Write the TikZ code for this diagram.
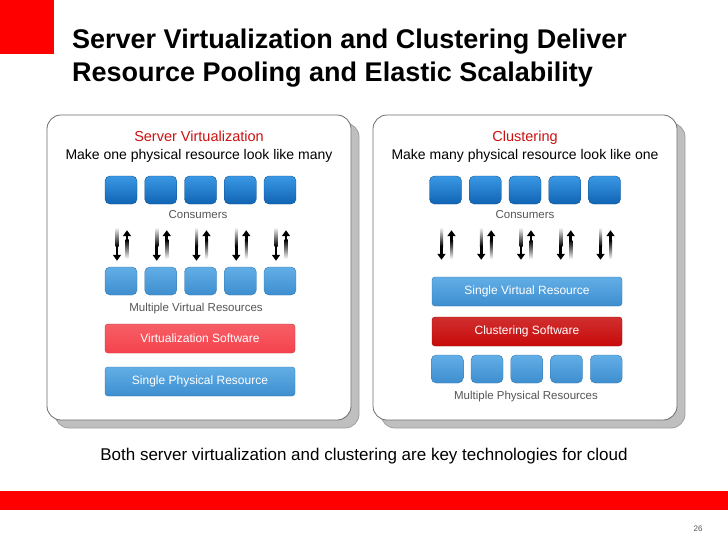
\documentclass[tikz,border=0pt]{standalone}
\usepackage{fontspec}
\setmainfont{Liberation Sans}
\usetikzlibrary{positioning,arrows.meta,shadows}

\definecolor{slidered}{HTML}{FF0000}
\definecolor{headred}{HTML}{CC1111}
\definecolor{consumertop}{HTML}{3A98E4}
\definecolor{consumerbot}{HTML}{1064B4}
\definecolor{restop}{HTML}{62AEE6}
\definecolor{resbot}{HTML}{3E8ECF}
\definecolor{virtred}{HTML}{F5424C}
\definecolor{clusred}{HTML}{C80A0A}
\definecolor{labelgray}{HTML}{555555}

\begin{document}
\begin{tikzpicture}[
    x=1pt, y=-1pt,
    panel/.style={rectangle, draw=gray!85!black, fill=white, rounded corners=14pt,
                minimum width=304pt, minimum height=305pt, line width=0.8pt,
                drop shadow={shadow xshift=8pt, shadow yshift=-8pt, fill=gray!50, draw=gray!75, opacity=1}},
    consumer/.style={rectangle, rounded corners=5pt, minimum width=32pt, minimum height=28pt,
                inner sep=0pt, draw=consumerbot!80!black, top color=consumertop, bottom color=consumerbot},
    resource/.style={rectangle, rounded corners=5pt, minimum width=32pt, minimum height=28pt,
                inner sep=0pt, draw=resbot!85!black, top color=restop, bottom color=resbot},
    bar/.style={rectangle, rounded corners=3pt, minimum width=190pt, minimum height=29pt,
                inner sep=0pt, text=white, font=\fontsize{12}{14}\selectfont},
    bluebar/.style={bar, draw=resbot!85!black, top color=restop, bottom color=resbot},
    softbar/.style={bar, draw=virtred!80!black, top color=virtred!85, bottom color=virtred},
    clusbar/.style={bar, draw=clusred!80!black, top color=clusred!85!white, bottom color=clusred},
    caption/.style={anchor=base, inner sep=0pt, text=labelgray, font=\fontsize{11.5}{13}\selectfont},
    heading/.style={anchor=base, inner sep=0pt, text=headred, font=\fontsize{14.5}{17}\selectfont},
    subhead/.style={anchor=base, inner sep=0pt, font=\fontsize{14}{17}\selectfont},
    flow/.style={-{Triangle[length=6pt,width=8pt]}, line width=2.6pt, black},
    fadedown/.style={top color=white, bottom color=black},
    fadeup/.style={top color=black, bottom color=white}
]
    \useasboundingbox (0,0) rectangle (728,546);

    % slide frame
    \fill[slidered] (0,0) rectangle (54,54);
    \fill[slidered] (0,491) rectangle (728,510);
    \node[anchor=base west, inner sep=0pt, font=\fontsize{27}{30}\bfseries] (title1) at (72,48)
        {Server Virtualization and Clustering Deliver};
    \node[anchor=base west, inner sep=0pt, font=\fontsize{27}{30}\bfseries] (title2) at (72,81)
        {Resource Pooling and Elastic Scalability};

    % panels
    \node[panel] (leftpanel) at (199,267.5) {};
    \node[panel] (rightpanel) at (525,267.5) {};

    % server virtualization
    \node[heading] (svhead) at (199,141) {Server Virtualization};
    \node[subhead] (svsub) at (199,159) {Make one physical resource look like many};
    \foreach \i in {1,...,5} {
        \node[consumer] (lc\i) at ({81.25+39.75*\i},190) {};
        \node[resource] (lv\i) at ({81.25+39.75*\i},281) {};
        \draw[flow, shorten <=24pt, shorten >=6pt] ([xshift=-4pt]lc\i.south) -- ([xshift=-4pt]lv\i.north);
        \draw[flow, shorten <=9pt, shorten >=26pt] ([xshift=6pt]lv\i.north) -- ([xshift=6pt]lc\i.south);
        % faded tails
        \shade[fadedown] ([xshift=-5.5pt,yshift=-23pt]lc\i.south) rectangle ([xshift=-2.5pt,yshift=-42pt]lc\i.south);
        \shade[fadeup] ([xshift=4.5pt,yshift=27pt]lv\i.north) rectangle ([xshift=7.5pt,yshift=8pt]lv\i.north);
    }
    \node[caption] (lcons) at (198,218) {Consumers};
    \node[caption] (lvirt) at (196,311) {Multiple Virtual Resources};
    \node[softbar] (virtsw) at (200,338.5) {Virtualization Software};
    \node[bluebar] (physres) at (200,381.5) {Single Physical Resource};

    % clustering
    \node[heading] (clhead) at (525,141) {Clustering};
    \node[subhead] (clsub) at (525,159) {Make many physical resource look like one};
    \node[bluebar] (virtres) at (527,291.5) {Single Virtual Resource};
    \node[clusbar] (clussw) at (527,331.5) {Clustering Software};
    \foreach \i in {1,...,5} {
        \node[consumer] (rc\i) at ({405.75+39.75*\i},190) {};
        \node[resource] (rp\i) at ({407.5+39.75*\i},369) {};
        \draw[flow, shorten <=24pt, shorten >=17pt] ([xshift=-4pt]rc\i.south) -- ([xshift=-4pt]rc\i.south |- virtres.north);
        \draw[flow, shorten <=19pt, shorten >=26pt] ([xshift=6pt]rc\i.south |- virtres.north) -- ([xshift=6pt]rc\i.south);
        % faded tails
        \shade[fadedown] ([xshift=-5.5pt,yshift=-23pt]rc\i.south) rectangle ([xshift=-2.5pt,yshift=-42pt]rc\i.south);
        \shade[fadeup] ([xshift=4.5pt,yshift=-36pt]rc\i.south) rectangle ([xshift=7.5pt,yshift=-55pt]rc\i.south);
    }
    \node[caption] (rcons) at (525,218) {Consumers};
    \node[caption] (rphys) at (526,399) {Multiple Physical Resources};

    % footer
    \node[anchor=base, inner sep=0pt, font=\fontsize{17}{20}\selectfont] (summary) at (364,460)
        {Both server virtualization and clustering are key technologies for cloud};
    \node[anchor=base, inner sep=0pt, text=labelgray, font=\fontsize{8}{9}\selectfont] (pagenum) at (698,531) {26};
\end{tikzpicture}
\end{document}
